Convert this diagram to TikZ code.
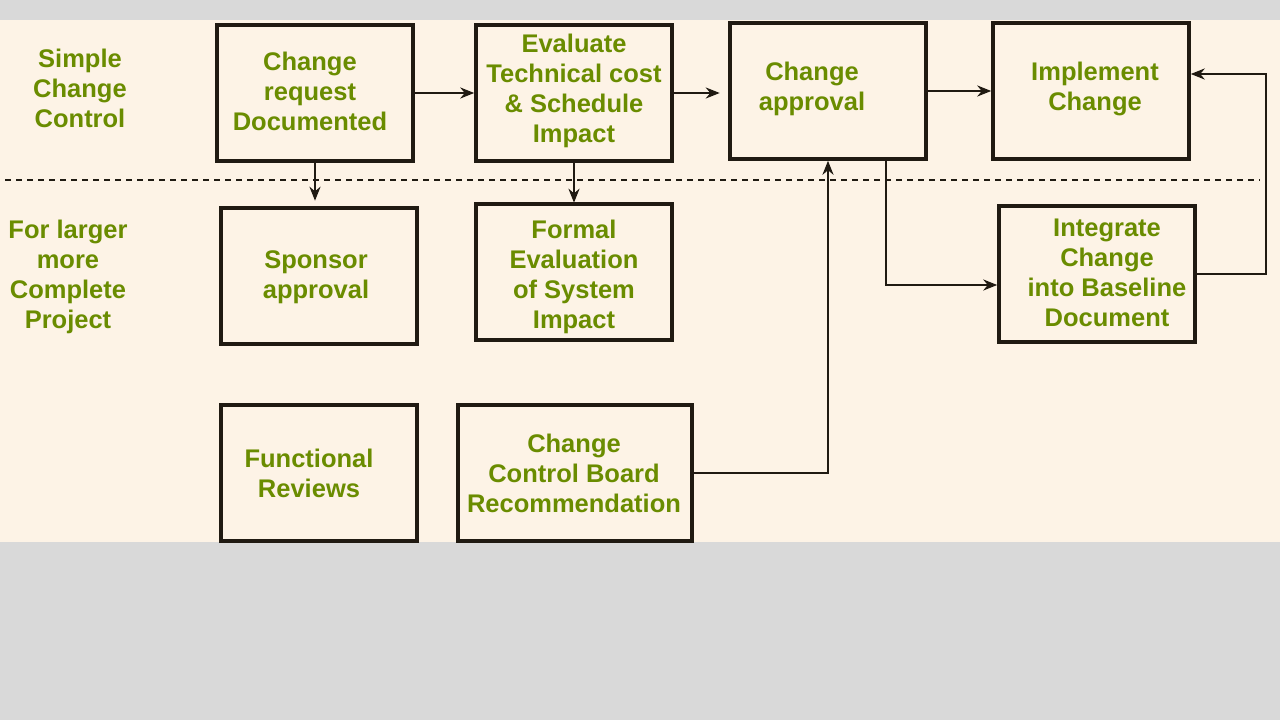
\documentclass[tikz,border=0pt]{standalone}
\usepackage{fontspec}
\setmainfont{Liberation Sans}
\usetikzlibrary{arrows.meta}
\definecolor{cream}{HTML}{FDF3E6}
\definecolor{pagegray}{HTML}{D9D9D9}
\definecolor{olive}{HTML}{6A8C00}
\definecolor{ink}{HTML}{201A12}
\tikzset{
  stepbox/.style={draw=ink, line width=3.5pt, minimum width=196pt, minimum height=136pt,
    align=center, inner sep=0pt},
  lbl/.style={text=olive, font=\bfseries\fontsize{25.5}{30}\selectfont, align=center},
  flow/.style={draw=ink, line width=2.5pt, -{Stealth[length=14pt,width=11pt]}}
}
\begin{document}
\begin{tikzpicture}[x=1pt, y=-1pt]
      \fill[pagegray] (0,0) rectangle (1280,720);
      \fill[cream] (0,20) rectangle (1280,542);

      \draw[ink, line width=2.5pt, dash pattern=on 6pt off 5pt] (5,180) -- (1260,180);

      \node[lbl] (simple) at (80,88) {Simple\\Change\\Control};
      \node[lbl] (larger) at (68,277) {For larger\\more\\Complete\\Project};

      \node[stepbox] (request) at (315,93) {};
      \node[lbl] at (310,91) {Change\\request\\Documented};
      \node[stepbox] (evaluate) at (574,93) {};
      \node[lbl] at (574,91) {Evaluate\\Technical cost\\\& Schedule\\Impact};
      \node[stepbox] (approval) at (828,91) {};
      \node[lbl] at (812,89) {Change\\approval};
      \node[stepbox] (implement) at (1091,91) {};
      \node[lbl] at (1095,89) {Implement\\Change};

      \node[stepbox] (sponsor) at (319,276) {};
      \node[lbl] at (316,277) {Sponsor\\approval};
      \node[stepbox] (formal) at (574,272) {};
      \node[lbl] at (574,277) {Formal\\Evaluation\\of System\\Impact};
      \node[stepbox] (integrate) at (1097,274) {};
      \node[lbl] at (1107,273) {Integrate\\Change\\into Baseline\\Document};

      \node[stepbox] (functional) at (319,473) {};
      \node[lbl] at (309,473) {Functional\\Reviews};
      \node[stepbox, minimum width=234pt] (board) at (575,473) {};
      \node[lbl] at (574,473) {Change\\Control Board\\Recommendation};

      % top row
      \draw[flow] (request.east) -- (evaluate.west);
      \draw[flow] (evaluate.east) -- ++(46,0);
      \draw[flow] (approval.east) -- (implement.west);

      % down to larger project steps
      \draw[flow] (request.south) -- ++(0,38);
      \draw[flow] (evaluate.south) -- ++(0,40);
      \draw[flow] (approval.south -| 886,0) |- (integrate.west |- 0,285);
      \coordinate (loop) at (1266,74);
      \draw[flow] (integrate.east) -| (loop) -- (implement.east |- loop);
      \draw[flow] (board.east) -| (approval.south);
\end{tikzpicture}
\end{document}
